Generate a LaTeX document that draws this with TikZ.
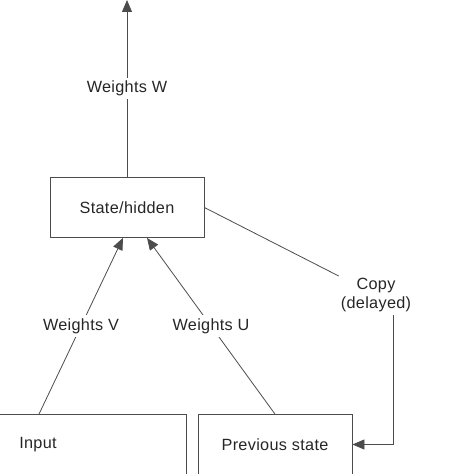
\documentclass[tikz,border=0pt]{standalone}
\usepackage{fontspec}
\setmainfont{Liberation Sans}[LetterSpace=2]
\usetikzlibrary{arrows.meta}
\begin{document}
\begin{tikzpicture}[x=1bp,y=-1bp,
  every node/.style={font=\fontsize{16.3}{20}\selectfont, text=black!85},
  box/.style={draw=black!70, line width=0.8bp, minimum height=60bp, inner sep=0pt},
  conn/.style={draw=black!70, line width=0.8bp},
  arr/.style={conn, -{Triangle[length=12bp,width=10bp]}},
  lbl/.style={fill=white, inner sep=3bp}]
\useasboundingbox (0,0) rectangle (474,474);
\node[box, minimum width=154bp] (state) at (127,207.5) {State/hidden};
\node[box, minimum width=296bp] (input) at (38,444.5) {Input};
\node[box, minimum width=154bp] (prev) at (275,444.5) {Previous state};
\coordinate (out) at (127,0);
\node[align=center, inner sep=2bp] (copy) at (376,295) {Copy\\(delayed)};
\draw[arr] (state.north) -- node[lbl]{Weights W} (out);
\draw[arr] ([xshift=1bp]input.north) -- node[lbl]{Weights V} ([xshift=-4bp]state.south);
\draw[arr] (prev.north) -- node[lbl]{Weights U} ([xshift=20bp]state.south);
\draw[conn] (state.east) -- (copy);
\draw[arr] ([xshift=17bp]copy.south) |- (prev.east);
\end{tikzpicture}
\end{document}
